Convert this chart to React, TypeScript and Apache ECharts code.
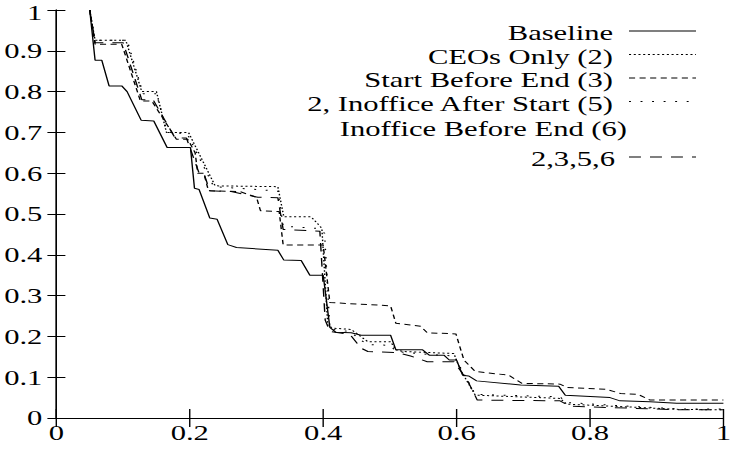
import React, { useEffect, useRef } from "react";
import * as echarts from "echarts";

// ---- tick labels ----
const xTickLabels = ["0", "0.2", "0.4", "0.6", "0.8", "1"];
const yTickLabels = ["0", "0.1", "0.2", "0.3", "0.4", "0.5", "0.6", "0.7", "0.8", "0.9", "1"];

// ---- series names ----
const seriesNames = [
  "Baseline",
  "CEOs Only (2)",
  "Start Before End (3)",
  "2, Inoffice After Start (5)",
  "Inoffice Before End (6)",
  "2,3,5,6",
];

// ---- series values [x, y] ----
const baseline = [
  [0.05, 1.0], [0.058, 0.877], [0.068, 0.877], [0.079, 0.814], [0.098, 0.814], [0.106, 0.8],
  [0.127, 0.73], [0.146, 0.728], [0.166, 0.663], [0.201, 0.663], [0.207, 0.563], [0.214, 0.56],
  [0.23, 0.49], [0.241, 0.487], [0.257, 0.425], [0.27, 0.418], [0.332, 0.411], [0.341, 0.387],
  [0.367, 0.386], [0.38, 0.35], [0.4, 0.35], [0.41, 0.222], [0.419, 0.21], [0.442, 0.209],
  [0.457, 0.203], [0.501, 0.203], [0.509, 0.167], [0.549, 0.167], [0.559, 0.154], [0.581, 0.154],
  [0.589, 0.142], [0.6, 0.142], [0.609, 0.105], [0.618, 0.103], [0.63, 0.091], [0.696, 0.081],
  [0.753, 0.078], [0.763, 0.056], [0.83, 0.05], [0.845, 0.042], [0.89, 0.04], [0.93, 0.036],
  [1.0, 0.036],
];

const ceosOnly = [
  [0.05, 1.0], [0.058, 0.926], [0.104, 0.926], [0.128, 0.8], [0.15, 0.8], [0.165, 0.7],
  [0.198, 0.7], [0.238, 0.569], [0.332, 0.567], [0.341, 0.493], [0.382, 0.493], [0.398, 0.465],
  [0.407, 0.225], [0.417, 0.22], [0.442, 0.217], [0.457, 0.199], [0.467, 0.187], [0.501, 0.187],
  [0.509, 0.167], [0.52, 0.163], [0.596, 0.158], [0.605, 0.12], [0.628, 0.056], [0.755, 0.048],
  [0.765, 0.034], [0.846, 0.028], [0.935, 0.021], [1.0, 0.02],
];

const startBeforeEnd = [
  [0.05, 1.0], [0.058, 0.916], [0.098, 0.916], [0.126, 0.777], [0.143, 0.777], [0.18, 0.683],
  [0.197, 0.683], [0.208, 0.65], [0.212, 0.6], [0.221, 0.6], [0.228, 0.557], [0.275, 0.555],
  [0.3, 0.541], [0.306, 0.508], [0.334, 0.506], [0.34, 0.424], [0.4, 0.424], [0.41, 0.283],
  [0.501, 0.275], [0.509, 0.232], [0.546, 0.225], [0.556, 0.209], [0.599, 0.206], [0.611, 0.142],
  [0.628, 0.114], [0.678, 0.105], [0.698, 0.085], [0.755, 0.083], [0.765, 0.075], [0.825, 0.07],
  [0.846, 0.06], [0.872, 0.058], [0.89, 0.044], [1.0, 0.044],
];

const inofficeAfterStart = [
  [0.05, 1.0], [0.058, 0.926], [0.106, 0.926], [0.13, 0.795], [0.15, 0.795], [0.166, 0.7],
  [0.196, 0.697], [0.236, 0.567], [0.3, 0.56], [0.332, 0.556], [0.34, 0.47], [0.39, 0.465],
  [0.402, 0.453], [0.41, 0.218], [0.44, 0.212], [0.457, 0.19], [0.467, 0.18], [0.501, 0.178],
  [0.509, 0.163], [0.556, 0.156], [0.596, 0.152], [0.628, 0.058], [0.755, 0.052], [0.765, 0.038],
  [0.846, 0.03], [0.935, 0.022], [1.0, 0.022],
];

const combined2356 = [
  [0.05, 1.0], [0.058, 0.92], [0.1, 0.92], [0.128, 0.78], [0.145, 0.78], [0.178, 0.686],
  [0.195, 0.686], [0.214, 0.6], [0.221, 0.6], [0.23, 0.557], [0.262, 0.555], [0.302, 0.541],
  [0.332, 0.54], [0.34, 0.462], [0.395, 0.458], [0.403, 0.24], [0.41, 0.212], [0.44, 0.205],
  [0.457, 0.171], [0.467, 0.163], [0.511, 0.16], [0.531, 0.152], [0.556, 0.138], [0.596, 0.138],
  [0.616, 0.093], [0.631, 0.044], [0.755, 0.042], [0.77, 0.029], [0.86, 0.024], [0.935, 0.02],
  [1.0, 0.02],
];

const FONT = '"Liberation Serif", "Times New Roman", serif';
const FONT_SIZE = 22;
// the reference's lettering is horizontally stretched Times; reproduce it by
// rendering the chart narrower and widening it with a CSS scaleX
const S = 1.39;
const PAGE_W = 737;
const PAGE_H = 455;

export default function App() {
  const ref = useRef<HTMLDivElement>(null);

  useEffect(() => {
    if (!ref.current) return;
    const chart = echarts.init(ref.current, null, { renderer: "svg" });

    const px = (v: number) => v / S; // horizontal page px -> chart px

    const styles: { data: number[][]; dash: any; legendY: number; textY: number; textX: number; sample: boolean }[] = [
      { data: baseline, dash: "solid", legendY: 31, textY: 33, textX: 613, sample: true },
      { data: ceosOnly, dash: [1.5, 1.9], legendY: 54.5, textY: 56.5, textX: 613, sample: true },
      { data: startBeforeEnd, dash: [4.4, 3.2], legendY: 78, textY: 80, textX: 613, sample: true },
      { data: inofficeAfterStart, dash: [1.4, 6.9], legendY: 101.5, textY: 103.5, textX: 613, sample: true },
      { data: [], dash: "solid", legendY: 127, textY: 129, textX: 627, sample: false },
      { data: combined2356, dash: [8.6, 6.5], legendY: 157, textY: 159, textX: 615, sample: true },
    ];

    const series: any[] = styles
      .map((s, i) => ({
        name: seriesNames[i],
        type: "line",
        data: s.data,
        showSymbol: false,
        symbol: "none",
        lineStyle: { color: "#000", width: 1, type: s.dash },
        z: 2,
      }))
      .filter((s) => s.data.length > 0);

    const graphics: any[] = [];
    styles.forEach((s, i) => {
      graphics.push({
        type: "text",
        x: px(s.textX),
        y: s.textY,
        style: {
          text: seriesNames[i],
          align: "right",
          verticalAlign: "middle",
          fontSize: FONT_SIZE,
          fontFamily: FONT,
          fill: "#000",
        },
        z: 10,
      });
      if (s.sample) {
        graphics.push({
          type: "line",
          shape: { x1: px(629), y1: s.legendY, x2: px(696), y2: s.legendY },
          style: {
            stroke: "#000",
            lineWidth: 1,
            lineDash: s.dash === "solid" ? null : s.dash,
          },
          z: 10,
        });
      }
    });

    const axisBase = {
      type: "value",
      min: 0,
      max: 1,
      axisLine: { show: true, lineStyle: { color: "#000", width: 1 } },
      splitLine: { show: false },
    };
    const xTick = { show: true, inside: true, length: 9, lineStyle: { color: "#000", width: 1 } };
    const yTick = { show: true, inside: true, length: px(9), lineStyle: { color: "#000", width: 1 } };

    chart.setOption({
      animation: false,
      backgroundColor: "#fff",
      grid: { left: px(54.3), right: px(13.3), top: 10, bottom: 37, containLabel: false },
      xAxis: [
        {
          ...axisBase,
          interval: 0.2,
          position: "bottom",
          axisTick: xTick,
          axisLabel: {
            show: true,
            margin: 4,
            fontSize: FONT_SIZE,
            fontFamily: FONT,
            color: "#000",
            formatter: (v: number) => xTickLabels[Math.round(v * 5)],
          },
        },
        {
          ...axisBase,
          interval: 0.2,
          position: "top",
          axisTick: xTick,
          axisLabel: { show: false },
        },
      ],
      yAxis: [
        {
          ...axisBase,
          interval: 0.1,
          position: "left",
          axisTick: yTick,
          axisLabel: {
            show: true,
            margin: px(14),
            fontSize: FONT_SIZE,
            fontFamily: FONT,
            color: "#000",
            formatter: (v: number) => {
              const i = Math.round(v * 10);
              return i === 10 ? "{top|" + yTickLabels[i] + "}" : yTickLabels[i];
            },
            rich: {
              top: {
                fontSize: FONT_SIZE,
                fontFamily: FONT,
                color: "#000",
                padding: [6, 0, 0, 0],
              },
            },
          },
        },
        {
          ...axisBase,
          interval: 0.1,
          position: "right",
          axisTick: yTick,
          axisLabel: { show: false },
        },
      ],
      series,
      graphic: graphics,
    });

    return () => chart.dispose();
  }, []);

  return (
    <div
      style={{
        position: "fixed",
        left: 0,
        top: 0,
        width: PAGE_W,
        height: PAGE_H,
        overflow: "hidden",
        background: "#fff",
      }}
    >
      <div
        ref={ref}
        style={{
          width: PAGE_W / S,
          height: PAGE_H,
          transform: `scaleX(${S})`,
          transformOrigin: "0 0",
        }}
      />
    </div>
  );
}
